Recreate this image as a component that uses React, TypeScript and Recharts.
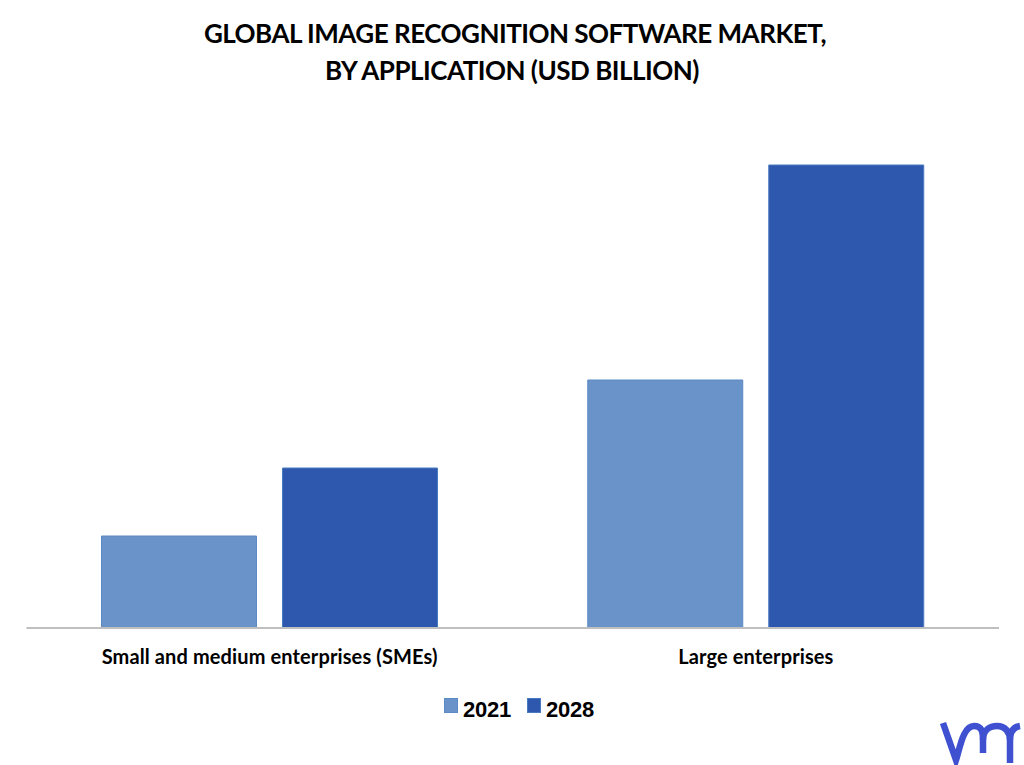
import React from 'react'
import { BarChart, Bar, XAxis, YAxis, Legend } from 'recharts'

const categories = ['Small and medium enterprises (SMEs)', 'Large enterprises']
const values2021 = [0.92, 2.48]
const values2028 = [1.6, 4.63]

const data = categories.map((name, i) => ({
  name,
  y2021: values2021[i],
  y2028: values2028[i],
}))

const titleLines = [
  { text: 'GLOBAL IMAGE RECOGNITION SOFTWARE MARKET,', shift: 3 },
  { text: 'BY APPLICATION (USD BILLION)', shift: 0 },
]

const legendItems = [
  { label: '2021', color: '#6993c9', border: '#5b8ac6' },
  { label: '2028', color: '#2e58ae', border: '#4a7ac0' },
]

const renderLegend = () => (
  <div
    style={{
      display: 'flex',
      fontFamily: '"Liberation Sans", Arial, sans-serif',
      fontWeight: 700,
      fontSize: 22,
      letterSpacing: -0.2,
      color: '#000',
      lineHeight: '24px',
    }}
  >
    {legendItems.map((item) => (
      <div
        key={item.label}
        style={{ display: 'flex', alignItems: 'flex-start', width: 83 }}
      >
        <span
          style={{
            width: 14,
            height: 15,
            marginTop: 0,
            marginRight: 5,
            background: item.color,
            border: `1px solid ${item.border}`,
            boxSizing: 'border-box',
          }}
        />
        <span>{item.label}</span>
      </div>
    ))}
  </div>
)

export default function App() {
  return (
    <div
      style={{
        position: 'absolute',
        left: 0,
        top: 0,
        width: 1024,
        height: 765,
        background: '#fff',
        overflow: 'hidden',
      }}
    >
      <div
        style={{
          position: 'absolute',
          top: 15,
          left: 0,
          width: 1024,
          textAlign: 'center',
          fontFamily: 'Lato, sans-serif',
          fontWeight: 700,
          fontSize: 26,
          letterSpacing: -0.5,
          lineHeight: '37px',
          color: '#000',
        }}
      >
        {titleLines.map((line) => (
          <div key={line.text} style={{ position: 'relative', left: line.shift }}>
            {line.text}
          </div>
        ))}
      </div>
      <BarChart
        width={1024}
        height={765}
        data={data}
        margin={{ top: 128, right: 25, left: 26.5, bottom: 0 }}
        barSize={155}
        barGap={26}
      >
        <XAxis
          dataKey="name"
          tickLine={false}
          axisLine={{ stroke: '#bfbfbf', strokeWidth: 2 }}
          height={113}
          interval={0}
          tickMargin={16}
          tick={{
            fill: '#000',
            fontFamily: 'Lato, sans-serif',
            fontWeight: 700,
            fontSize: 20,
            letterSpacing: 0.12,
          }}
        />
        <YAxis hide domain={[0, 5]} />
        <Legend
          content={renderLegend}
          wrapperStyle={{ top: 698, left: 444, width: 170, bottom: 'auto' }}
        />
        <Bar
          dataKey="y2021"
          name="2021"
          fill="#6993c9"
          stroke="#5b8ac6"
          isAnimationActive={false}
        />
        <Bar
          dataKey="y2028"
          name="2028"
          fill="#2e58ae"
          stroke="#4a7ac0"
          isAnimationActive={false}
        />
      </BarChart>
      {/* logo */}
      <svg
        style={{ position: 'absolute', left: 930, top: 710 }}
        width={94}
        height={55}
        fill="none"
        stroke="#3f51d0"
        strokeWidth={6.5}
      >
        <path d="M13 13 L26 50 C30 38 33 16 44 16 C52 16 53 22 53 30 L53 43" />
        <path d="M53 30 C53 20 60 16 67 16 C75 16 80 22 80 30 L80 53" />
        <path d="M80 30 C80 21 84 17 90 16" />
      </svg>
    </div>
  )
}
